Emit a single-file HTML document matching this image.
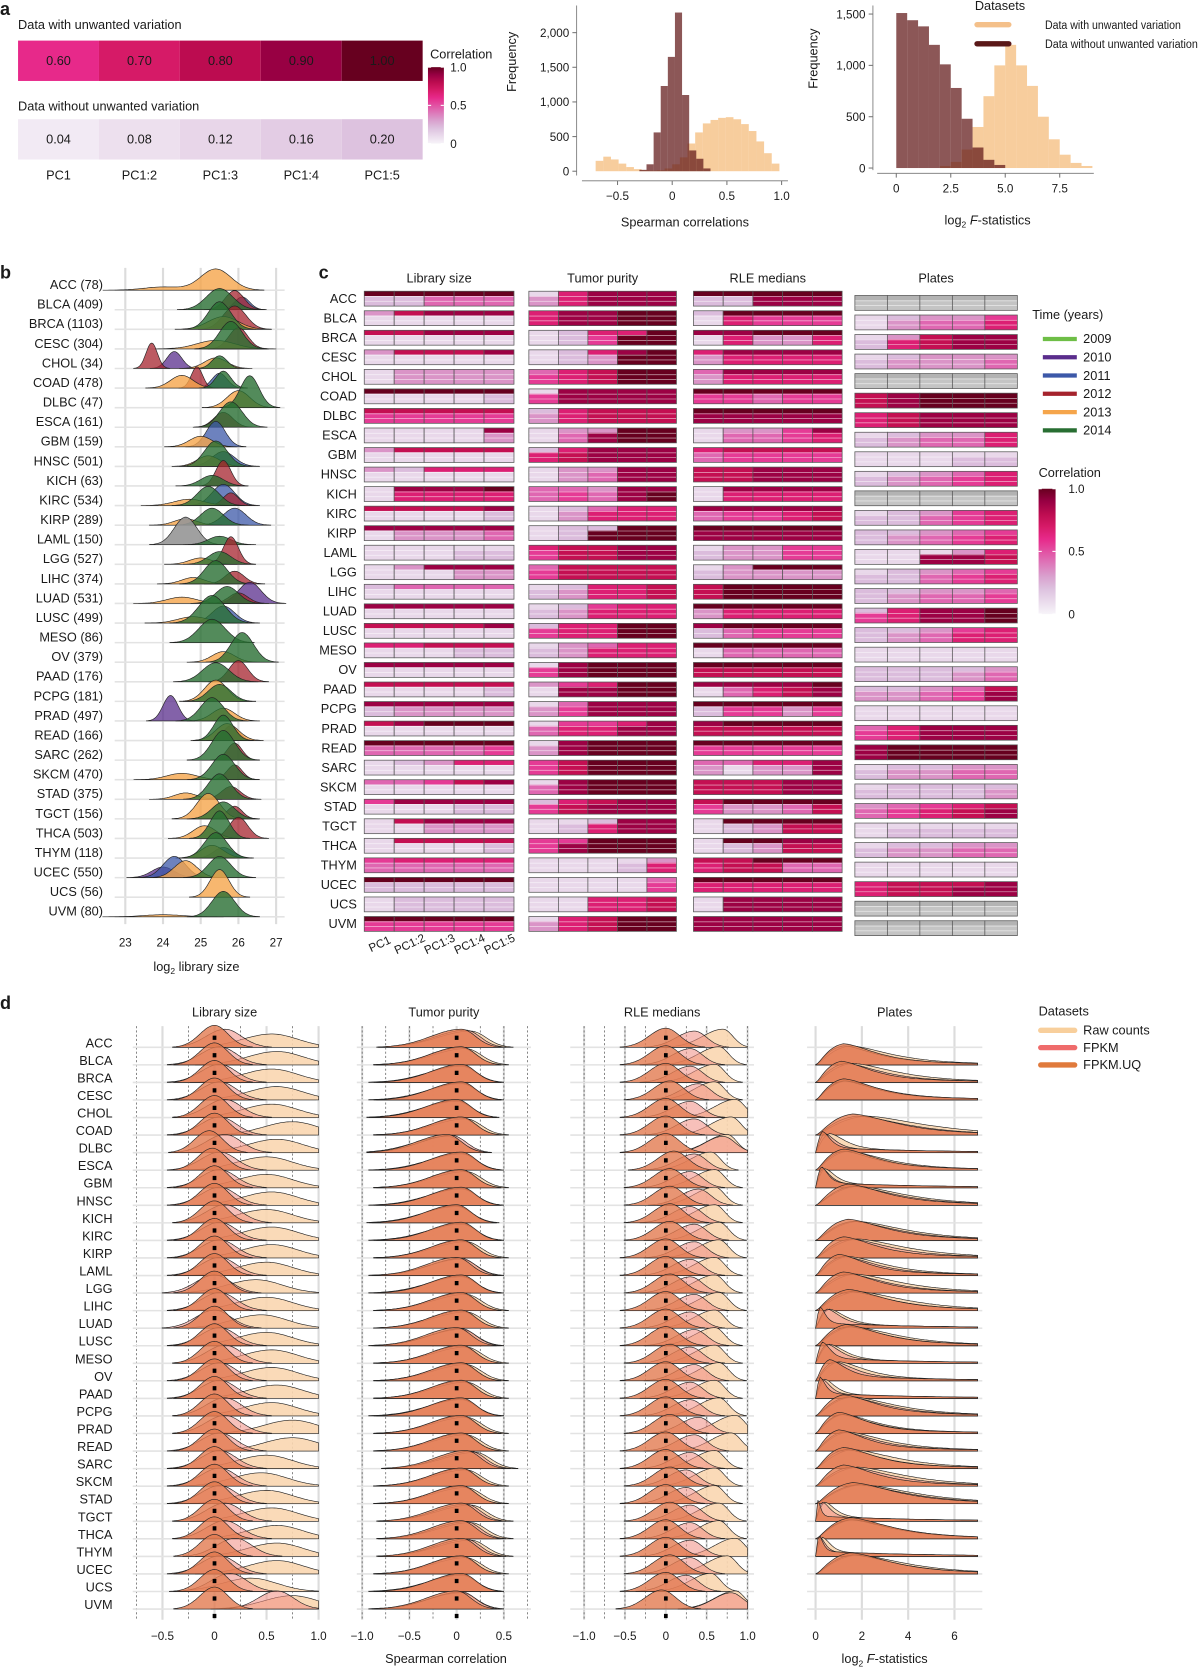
<!DOCTYPE html>
<html><head><meta charset="utf-8">
<style>
html,body{margin:0;padding:0;background:#fff;}
svg{display:block;font-family:"Liberation Sans",sans-serif;}
</style></head>
<body>
<svg id="fig" width="1200" height="1672" viewBox="0 0 1130 1574" xmlns="http://www.w3.org/2000/svg"></svg>
<script>
// ---------------- DATA ----------------
const cancers=["ACC","BLCA","BRCA","CESC","CHOL","COAD","DLBC","ESCA","GBM","HNSC","KICH","KIRC","KIRP","LAML","LGG","LIHC","LUAD","LUSC","MESO","OV","PAAD","PCPG","PRAD","READ","SARC","SKCM","STAD","TGCT","THCA","THYM","UCEC","UCS","UVM"];
const sampleN=[78,409,1103,304,34,478,47,161,159,501,63,534,289,150,527,374,531,499,86,379,176,181,497,166,262,470,375,156,503,118,550,56,80];
// panel a
const pcLabels=["PC1","PC1:2","PC1:3","PC1:4","PC1:5"];
const aWith=[0.60,0.70,0.80,0.90,1.00];
const aWithout=[0.04,0.08,0.12,0.16,0.20];
const h1OrangeStart=-0.7, h1OrangeWidth=0.07;
const h1Orange=[150,210,170,110,60,30,15,10,15,40,100,200,400,560,690,740,770,780,750,680,580,430,260,110];
const h1BrownStart=-0.3, h1BrownWidth=0.065;
const h1Brown=[20,100,560,1230,1650,2290,1100,300,180,40];
const h1YTicks=[0,500,1000,1500,2000];
const h1XTicks=[-0.5,0,0.5,1.0];
const h2OrangeStart=2.0, h2OrangeWidth=0.5;
const h2Orange=[20,60,180,400,700,1000,1200,1000,800,500,280,130,50,20];
const h2BrownStart=0, h2BrownWidth=0.5;
const h2Brown=[1510,1440,1380,1200,1010,780,480,200,80,30];
const h2YTicks=[0,500,1000,1500];
const h2XTicks=[0,2.5,5.0,7.5];
// panel b: per cancer [year, mean, sd, height]
const years=["2009","2010","2011","2012","2013","2014"];
const bRows=[
[[2013,25.4,.4,1],[2013,24,.5,.15]],
[[2014,25.5,.35,1],[2012,25.9,.25,.9],[2011,26.1,.2,.6]],
[[2014,25.5,.3,1.3],[2012,25.9,.3,1.1],[2013,25.6,.4,.6]],
[[2014,25.8,.3,1.3],[2012,26,.25,1],[2013,25.4,.5,.4]],
[[2012,23.7,.15,1.2],[2010,24.3,.2,.8],[2013,25.4,.3,.5],[2014,25.5,.2,.6]],
[[2012,24.9,.15,1],[2013,24.5,.3,.6],[2011,25.5,.2,.7],[2014,25.6,.2,.8]],
[[2014,26.3,.25,1.5],[2013,26,.3,.8]],
[[2014,25.8,.3,1.2],[2012,25.6,.25,.7]],
[[2011,25.4,.25,1.2],[2013,25,.3,.5]],
[[2014,25.4,.3,1.2],[2011,25.6,.3,.7],[2013,25.2,.3,.5]],
[[2012,25.6,.2,1.2],[2014,25.3,.3,.5]],
[[2011,25.6,.3,1],[2014,25.2,.3,.9],[2012,25.8,.2,.6],[2013,24.7,.4,.3]],
[[2011,25.9,.3,.8],[2014,25.3,.3,.8],[2013,24.6,.3,.3]],
[[0,24.6,.3,1.3],[2014,25.5,.3,.4]],
[[2012,25.8,.2,1.3],[2014,25.5,.3,.6],[2013,25,.3,.3]],
[[2014,25.4,.3,1.1],[2012,25.9,.25,.6],[2013,24.8,.3,.3]],
[[2010,26.3,.3,1],[2014,25.7,.3,.8],[2012,26,.25,.5],[2013,24.5,.4,.3]],
[[2014,25.3,.35,1.3],[2011,25.6,.3,.8],[2013,24.8,.4,.3]],
[[2014,25.3,.35,1.1]],
[[2014,26.1,.3,1.4],[2013,25.6,.3,.5]],
[[2012,26,.25,1],[2014,25.4,.35,.9]],
[[2013,25.4,.3,1],[2014,25.5,.3,.8]],
[[2010,24.2,.2,1.2],[2014,25.3,.3,1.1],[2013,25.6,.3,.6]],
[[2014,25.6,.25,1.2],[2013,25.7,.3,.8],[2012,25.8,.2,.7]],
[[2014,25.6,.3,1.4],[2012,25.9,.2,.8]],
[[2014,25.6,.3,1.2],[2012,25.9,.2,.7],[2013,24.5,.4,.3]],
[[2014,25.5,.3,1.2],[2012,25.8,.25,.6],[2013,24.6,.3,.3]],
[[2013,25.2,.3,1.2],[2014,25.6,.3,.8],[2012,25.9,.2,.6]],
[[2014,25.5,.25,1.3],[2012,26,.25,1],[2013,25.1,.3,.6]],
[[2014,25.4,.3,1.2],[2013,25.3,.3,.6],[2011,25.6,.25,.5]],
[[2011,24.3,.3,1],[2013,24.6,.3,.8],[2014,25.5,.3,1],[2010,24,.3,.5]],
[[2013,25.5,.25,1.3]],
[[2014,25.6,.3,1.2],[2013,24,.5,.1]]];
const bXTicks=[23,24,25,26,27];
// panel c: each cell "top-digit body-digit" (0..9 -> correlation 0..1); "g" = not available
const cPanels=["Library size","Tumor purity","RLE medians","Plates"];
const cLib=["92 92 94 94 94","31 71 81 81 81","71 71 81 81 81","31 71 71 71 81","11 33 33 33 33","91 91 91 91 92","75 75 75 75 75","11 11 11 11 83","31 71 71 71 71","31 21 61 61 61","11 86 86 86 96","71 71 71 71 82","81 83 83 83 84","11 11 11 12 12","11 31 81 83 83","21 41 41 41 41","81 81 81 81 81","71 71 71 71 81","61 61 71 72 72","81 81 81 81 81","71 71 71 71 72","82 83 83 83 83","71 81 91 91 91","94 94 94 94 95","11 21 31 61 61","41 41 51 71 81","51 81 81 82 82","11 71 83 83 83","11 71 71 71 72","54 64 64 64 64","92 92 92 92 92","11 22 22 22 22","95 95 95 95 95"];
const cPurity=["13 66 88 88 88","66 88 88 99 99","11 22 65 69 99","11 22 63 89 99","45 66 77 99 99","15 88 88 88 88","23 66 77 77 77","11 34 38 99 99","26 67 88 88 88","11 33 34 88 88","44 45 34 88 89","11 23 46 66 66","11 22 29 99 99","65 77 77 88 88","45 77 77 77 77","12 23 66 66 77","12 23 56 66 66","25 66 66 99 99","12 33 46 66 66","15 88 99 99 99","31 58 68 99 99","13 45 88 88 88","14 56 56 68 88","13 88 99 99 99","55 77 99 99 99","14 88 99 99 99","25 67 78 88 88","11 12 26 88 88","55 58 99 99 99","11 11 11 12 36","11 11 11 11 45","11 11 66 66 77","13 66 77 99 99"];
const cRle=["92 92 98 98 98","21 96 95 95 95","81 86 93 93 96","63 86 86 86 86","43 86 86 86 86","95 95 94 95 95","98 98 98 98 98","11 34 34 55 86","64 75 75 75 75","77 77 88 88 88","11 86 86 86 86","84 85 85 86 87","98 98 98 98 98","12 33 33 55 55","12 33 93 93 93","77 99 99 99 99","93 96 96 96 96","82 94 95 95 95","91 94 94 94 94","97 97 97 97 97","81 84 86 87 98","92 95 95 93 95","87 97 97 97 97","95 95 95 95 95","43 41 63 63 88","77 77 77 88 88","75 93 93 94 97","11 92 93 97 97","11 92 93 87 87","76 77 97 94 94","96 96 96 96 96","11 88 88 88 88","88 88 88 88 88"];
const cPlates=["g","11 23 34 34 56","12 36 77 88 88","12 23 33 33 34","g","77 88 99 99 99","66 77 88 88 88","12 23 34 34 66","11 11 11 12 12","12 23 34 45 66","g","12 22 34 55 66","22 23 34 45 56","11 11 18 38 67","12 22 34 45 56","22 23 34 34 45","25 66 88 88 99","22 23 34 56 66","11 11 11 11 11","22 22 22 23 34","23 23 34 45 78","11 11 11 11 11","45 66 88 88 88","88 99 99 99 99","12 23 23 34 34","12 22 22 22 23","34 45 56 67 78","11 12 12 12 12","12 23 23 34 34","11 11 11 11 11","66 77 77 78 88","g","g"];
// panel d: ridge centres per cancer
const dSets=["Raw counts","FPKM","FPKM.UQ"];
const libRaw=[.55,.6,.55,.6,.55,.75,.6,.5,.5,.55,.5,.55,.55,.5,.4,.5,.45,.5,.55,.55,.6,.55,.75,.75,.5,.45,.5,.55,.6,.6,.6,.35,.75];
const libFpkm=[.1,.05,.05,.05,.1,.05,.1,.05,.05,.05,.1,.05,.05,.05,0,.05,0,.05,.1,.05,.05,.1,.1,.05,.05,.05,.05,.1,.1,.2,.05,.15,.6];
const libUq=[0,0,0,0,0,0,-.05,-.02,0,0,0,0,0,0,0,0,0,0,0,0,0,0,0,0,0,0,0,0,0,0,0,0,0];
const tpRaw=[.15,.1,.05,.05,0,.1,-.1,.05,.1,.05,0,.05,.1,.05,.05,.1,.1,.05,.1,.1,.1,.05,.1,.1,.2,.1,.1,.15,.15,.15,.1,.05,.05];
const tpFpkm=[.1,.05,.05,.05,0,.05,-.05,.05,.05,.05,0,.05,.05,.05,.05,.05,.05,.05,.05,.05,.05,.05,.05,.05,.15,.05,.05,.1,.1,.1,.05,.05,.05];
const tpUq=[.05,.05,.05,.05,0,.05,-.1,.05,.05,.05,0,.05,.05,0,.05,.05,.05,0,.05,.05,.05,.05,.05,.05,.1,.05,.05,.05,.05,.05,.05,.05,0];
const rleRaw=[.7,.65,.6,.6,.85,.8,.75,.55,.6,.6,.6,.65,.65,.6,.6,.65,.6,.6,.6,.65,.6,.65,.85,.8,.6,.6,.6,.65,.65,.85,.75,.55,.85];
const rleFpkm=[.35,.3,.3,.4,.3,.35,.7,.35,.3,.4,.3,.35,.35,.3,.3,.35,.3,.35,.3,.35,.3,.3,.4,.35,.3,.25,.25,.3,.3,.3,.3,.25,.8];
const rleUq=[0,0,0,.05,0,0,0,.1,.05,.05,.05,.05,0,0,.05,0,0,0,.05,0,0,0,.05,0,0,.05,0,.05,0,0,.05,0,-.05];
const plRaw=[null,1.5,1.6,1.3,null,2.2,.6,1.4,.4,1.8,null,1.8,1.8,1.4,1.7,1.8,.6,1.6,.6,1.0,.4,1.6,1.2,1.4,1.6,1.8,2.0,.4,1.6,.3,1.8,null,null];
const plFpkm=[null,1.2,1.3,1.2,null,1.8,.4,1.2,.3,1.6,null,1.6,1.5,1.2,1.4,1.5,.5,1.4,.5,.8,.3,1.4,1.1,1.2,1.3,1.5,1.8,.3,1.5,.2,1.6,null,null];
const plUq=[null,1.2,1.1,1.2,null,1.6,.3,1.2,.25,1.4,null,1.4,1.2,1.0,1.2,1.4,.2,1.3,.3,.6,.2,1.2,1.0,1.0,1.2,1.2,1.6,.1,1.5,.15,1.5,null,null];

// ---------------- HELPERS ----------------
const NS='http://www.w3.org/2000/svg';
const svg=document.getElementById('fig');
function mk(tag,attrs,parent){const e=document.createElementNS(NS,tag);for(const k in attrs)e.setAttribute(k,attrs[k]);(parent||svg).appendChild(e);return e;}
function txt(x,y,s,size,anchor,parent){const e=mk('text',{x:x,y:y,'font-size':size,'text-anchor':anchor||'start',fill:'#1a1a1a'},parent);e.textContent=s;return e;}
const stops=[[0,[247,244,249]],[0.25,[215,181,216]],[0.45,[223,101,176]],[0.6,[231,41,138]],[0.75,[206,18,86]],[0.9,[152,0,67]],[1,[103,0,31]]];
function corr(v){v=Math.max(0,Math.min(1,v));for(let i=1;i<stops.length;i++){if(v<=stops[i][0]){const a=stops[i-1],b=stops[i];const t=(v-a[0])/(b[0]-a[0]);const c=a[1].map((x,k)=>Math.round(x+(b[1][k]-x)*t));return 'rgb('+c.join(',')+')';}}return 'rgb(103,0,31)';}
function panelLabel(x,y,s){const t=txt(x,y,s,17,'start');t.setAttribute('font-weight','bold');return t;}

const defs=mk('defs',{});
const grad=mk('linearGradient',{id:'cbar',x1:0,y1:1,x2:0,y2:0},defs);
for(let i=0;i<=10;i++){mk('stop',{offset:(i/10),'stop-color':corr(i/10)},grad);}
function colorbar(x,y,w,h,labX,name){
  const g=mk('g',{});
  
  
  mk('rect',{x:x,y:y,width:w,height:h,fill:'url(#cbar)'},g);
  [[1,'1.0'],[0.5,'0.5'],[0,'0']].forEach(([v,l])=>{const yy=y+h-v*h;mk('line',{x1:x,x2:x+3,y1:yy,y2:yy,stroke:'#fff','stroke-width':1},g);mk('line',{x1:x+w-3,x2:x+w,y1:yy,y2:yy,stroke:'#fff','stroke-width':1},g);const t=txt(labX,yy+4,l,11,'start',g);});
  return g;
}

// ---------------- PANEL A ----------------
let L=panelLabel(0,14,'a');


let t=txt(17,27,'Data with unwanted variation',12);


t=txt(17,104,'Data without unwanted variation',12);


const aCellW=76.2;
[[aWith,38,'with'],[aWithout,112,'without']].forEach(([vals,y0,nm])=>{
  vals.forEach((v,j)=>{
    const r=mk('rect',{x:17+j*aCellW,y:y0,width:aCellW,height:38,fill:corr(v)});
    
    
    const tt=txt(17+j*aCellW+aCellW/2,y0+23,v.toFixed(2),12,'middle');
    
    
  });
});
pcLabels.forEach((p,j)=>{const tt=txt(17+j*aCellW+aCellW/2,169,p,12,'middle');});
t=txt(405,55,'Correlation',12);


colorbar(403,63,15,72,424,'correlation-colorbar-a');

function histogram(opts){
  const g=mk('g',{});
  
  
  const xS=opts.xS, yS=opts.yS;
  mk('line',{x1:opts.ax,x2:opts.ax,y1:opts.top,y2:opts.axBottom,stroke:'#777','stroke-width':0.8},g);
  mk('line',{x1:opts.axL,x2:opts.axR,y1:opts.axY,y2:opts.axY,stroke:'#777','stroke-width':0.8},g);
  opts.yTicks.forEach(v=>{const tt=txt(opts.ax-7,yS(v)+4,v.toLocaleString('en-US'),11,'end',g);mk('line',{x1:opts.ax-4,x2:opts.ax,y1:yS(v),y2:yS(v),stroke:'#777'},g);});
  opts.xTicks.forEach(v=>{const tt=txt(xS(v),opts.axY+18,opts.fmt(v),11,'middle',g);mk('line',{x1:xS(v),x2:xS(v),y1:opts.axY,y2:opts.axY+4,stroke:'#777'},g);});
  opts.series.forEach(s=>{
    s.counts.forEach((c,i)=>{
      const x0=xS(s.start+i*s.width), x1=xS(s.start+(i+1)*s.width);
      const r=mk('rect',{x:x0,y:yS(c),width:x1-x0,height:yS(0)-yS(c),fill:s.color},g);
      
      
    });
  });
  const yt=mk('text',{x:0,y:0,'font-size':12,'text-anchor':'middle',transform:'translate('+opts.ylabX+','+opts.ylabY+') rotate(-90)',fill:'#1a1a1a'},g);
  yt.textContent='Frequency';
  
  
  return g;
}
histogram({name:'spearman-histogram',xS:v=>633+v*103,yS:c=>161-c*(130.5/2000),ax:543,top:5,axBottom:165,axL:548,axR:742,axY:170,
  yTicks:h1YTicks,xTicks:h1XTicks,fmt:v=>v===1?'1.0':(v<0?'\u2212'+Math.abs(v):String(v)),ylabX:486,ylabY:58,
  series:[{name:'with-variation',counts:h1Orange,start:h1OrangeStart,width:h1OrangeWidth,color:'rgba(242,178,105,0.65)'},
          {name:'without-variation',counts:h1Brown,start:h1BrownStart,width:h1BrownWidth,color:'rgba(95,22,22,0.72)'}]});
t=txt(645,213,'Spearman correlations',12,'middle');


histogram({name:'fstat-histogram',xS:v=>844+v*20.52,yS:c=>158-c*(145/1500),ax:822,top:5,axBottom:160,axL:826,axR:1030,axY:163,
  yTicks:h2YTicks,xTicks:h2XTicks,fmt:v=>v===0?'0':v.toFixed(1),ylabX:770,ylabY:55,
  series:[{name:'with-variation',counts:h2Orange,start:h2OrangeStart,width:h2OrangeWidth,color:'rgba(242,178,105,0.65)'},
          {name:'without-variation',counts:h2Brown,start:h2BrownStart,width:h2BrownWidth,color:'rgba(95,22,22,0.72)'}]});
t=mk('text',{x:930,y:211,'font-size':12,'text-anchor':'middle',fill:'#1a1a1a'});
t.innerHTML='log<tspan font-size="8" dy="3">2</tspan><tspan dy="-3"> </tspan><tspan font-style="italic">F</tspan>-statistics';


const lgA=mk('g',{});


t=txt(918,9,'Datasets',12,'start',lgA);


[['Data with unwanted variation','#f4c08a',23,128],['Data without unwanted variation','#5a1818',41,144]].forEach(([s,c,y,w])=>{
  const ln=mk('line',{x1:920,x2:950,y1:y,y2:y,stroke:c,'stroke-width':5,'stroke-linecap':'round'},lgA);
  
  
  const tt=txt(984,y+4,s,11.5,'start',lgA);
  tt.setAttribute('textLength',w);
  tt.setAttribute('lengthAdjust','spacingAndGlyphs');
  
  
});

// ---------------- PANEL B ----------------
L=panelLabel(0,262,'b');


const yearColor={0:'rgba(150,150,150,0.9)',2009:'rgba(110,190,70,0.75)',2010:'rgba(90,45,140,0.75)',2011:'rgba(60,88,168,0.75)',2012:'rgba(165,35,45,0.75)',2013:'rgba(245,165,75,0.8)',2014:'rgba(40,110,50,0.8)'};
const xb=v=>118+(v-23)*35.5;
const ybRow=i=>268+i*18.44;
const gB=mk('g',{});


bXTicks.forEach(v=>{mk('line',{x1:xb(v),x2:xb(v),y1:252,y2:870,stroke:'#dcdcdc','stroke-width':2},gB);
  const tt=txt(xb(v),891,String(v),11,'middle',gB);});
cancers.forEach((c,i)=>{mk('line',{x1:108,x2:268,y1:ybRow(i)+5,y2:ybRow(i)+5,stroke:'#e3e3e3','stroke-width':1.5},gB);});
function ridge(parent,xS,base,lo,hi,fn,unit,fill){
  let d='M'+xS(lo).toFixed(1)+','+base;const n=70;
  for(let k=0;k<=n;k++){const x=lo+(hi-lo)*k/n;d+=' L'+xS(x).toFixed(1)+','+(base-fn(x)*unit).toFixed(1);}
  d+=' L'+xS(hi).toFixed(1)+','+base+' Z';
  return mk('path',{d:d,fill:fill,stroke:'#222','stroke-width':0.6},parent);
}
cancers.forEach((c,i)=>{
  const tt=txt(97,ybRow(i)+4,c+' ('+sampleN[i]+')',12,'end',gB);
  
  
  const groups={};
  bRows[i].forEach(cm=>{(groups[cm[0]]=groups[cm[0]]||[]).push(cm);});
  Object.keys(groups).forEach(y=>{
    const comps=groups[y];
    const lo=Math.min(...comps.map(k=>k[1]-3.2*k[2])), hi=Math.max(...comps.map(k=>k[1]+3.2*k[2]));
    const p=ridge(gB,xb,ybRow(i)+5,lo,hi,x=>comps.reduce((s,k)=>s+k[3]*Math.exp(-0.5*((x-k[1])/k[2])**2),0),20,yearColor[y]);
    
    
  });
});
t=mk('text',{x:185,y:914,'font-size':12,'text-anchor':'middle',fill:'#1a1a1a'});
t.innerHTML='log<tspan font-size="8" dy="3">2</tspan><tspan dy="-3"> library size</tspan>';


const lgB=mk('g',{});


t=txt(972,300,'Time (years)',12,'start',lgB);


years.forEach((y,k)=>{
  const yy=319+k*17.2;
  const ln=mk('line',{x1:982,x2:1014,y1:yy,y2:yy,stroke:yearColor[+y].replace(/0\.\d+\)/,'1)'),'stroke-width':4},lgB);
  
  
  const tt=txt(1020,yy+4,y,12,'start',lgB);
  
  
});
t=txt(978,449,'Correlation',12,'start');


colorbar(978,460,16,118,1006,'correlation-colorbar-c');

// ---------------- PANEL C ----------------
L=panelLabel(300,262,'c');


const cX=[343,498,653,805], cW=[141,139,140,153];
const cData=[cLib,cPurity,cRle,cPlates];
const cyRow=i=>281+i*18.4;
cPanels.forEach((p,k)=>{
  const g=mk('g',{});
  
  
  const tt=txt(cX[k]+cW[k]/2,266,p,12,'middle',g);
  
  
  const off=(k===3)?4:0;
  const cw=cW[k]/5;
  cData[k].forEach((row,i)=>{
    const y0=cyRow(i)-7+off;
    const cells=row.split(' ');
    for(let j=0;j<5;j++){
      const x0=cX[k]+j*cw;
      let top,body;
      if(row==='g'){top='#b3b3b3';body='#c4c4c4';}
      else{top=corr(+cells[j][0]/9);body=corr(+cells[j][1]/9);}
      const r1=mk('rect',{x:x0,y:y0,width:cw,height:14,fill:body},g);
      
      
      mk('rect',{x:x0,y:y0,width:cw,height:4.5,fill:top},g);
      mk('line',{x1:x0,x2:x0+cw,y1:y0+5,y2:y0+5,stroke:'rgba(255,255,255,0.55)','stroke-width':0.8},g);
      mk('line',{x1:x0,x2:x0+cw,y1:y0+9.5,y2:y0+9.5,stroke:'rgba(255,255,255,0.55)','stroke-width':0.8},g);
      mk('rect',{x:x0,y:y0,width:cw,height:14,fill:'none',stroke:'#555','stroke-width':0.7},g);
    }
  });
});
cancers.forEach((c,i)=>{const tt=txt(336,cyRow(i)+4,c,12,'end');});
pcLabels.forEach((p,j)=>{const x=cX[0]+j*cW[0]/5+cW[0]/10;const tt=mk('text',{x:0,y:0,'font-size':11,'text-anchor':'middle',fill:'#1a1a1a',transform:'translate('+(x+2)+',892) rotate(-25)'});tt.textContent=p;});

// ---------------- PANEL D ----------------
L=panelLabel(0,950,'d');


const ydRow=i=>982+i*16.53;
const dFill=['rgba(249,214,176,0.9)','rgba(240,140,130,0.55)','rgba(226,122,80,0.8)'];
const dPanels=[
 {title:'Library size',xS:v=>202+v*98,lo:-0.78,hi:1.0,ticks:[-0.5,0,0.5,1.0],dots:[-0.75,-0.25,0.25,0.75],data:[libRaw,libFpkm,libUq],sdL:[.28,.18,.14],sdR:[.25,.16,.13],h:[.7,.95,1.15],left:125,right:298},
 {title:'Tumor purity',xS:v=>430+v*89,lo:-0.95,hi:0.65,ticks:[-1.0,-0.5,0,0.5],dots:[-1,-0.75,-0.5,-0.25,0.25,0.5,0.75],data:[tpRaw,tpFpkm,tpUq],sdL:[.35,.33,.32],sdR:[.16,.15,.15],h:[.85,.9,.95],left:336,right:500},
 {title:'RLE medians',xS:v=>627+v*77,lo:-0.9,hi:1.0,ticks:[-1.0,-0.5,0,0.5,1.0],dots:[-1,-0.75,-0.5,-0.25,0.25,0.5,0.75,1],data:[rleRaw,rleFpkm,rleUq],sdL:[.25,.22,.2],sdR:[.12,.15,.17],h:[.95,.85,1.0],left:537,right:710},
 {title:'Plates',xS:v=>768+v*21.8,lo:0,hi:7,ticks:[0,2,4,6],dots:[],data:[plRaw,plFpkm,plUq],h:[.9,.9,1.0],left:760,right:925}
];
dPanels.forEach((P,k)=>{
  const g=mk('g',{});
  
  
  const tt=txt((P.left+P.right)/2,957,P.title,12,'middle',g);
  
  
  P.ticks.forEach(v=>{mk('line',{x1:P.xS(v),x2:P.xS(v),y1:966,y2:1525,stroke:'#dcdcdc','stroke-width':2},g);
    const lab=v===0?'0':(v<0?'\u2212':'')+(k===3?String(Math.abs(v)):Math.abs(v).toFixed(1));
    const tl=txt(P.xS(v),1544,lab,11,'middle',g);});
  P.dots.forEach(v=>{mk('line',{x1:P.xS(v),x2:P.xS(v),y1:966,y2:1525,stroke:'#444','stroke-width':0.6,'stroke-dasharray':'2,2'},g);});
  cancers.forEach((c,i)=>{mk('line',{x1:P.left,x2:P.right,y1:ydRow(i)+4,y2:ydRow(i)+4,stroke:'#e3e3e3','stroke-width':1.5},g);});
  cancers.forEach((c,i)=>{
    const base=ydRow(i)+4;
    for(let s=0;s<3;s++){
      const m=P.data[s][i];
      if(m===null) continue;
      let fn,lo,hi;
      if(k===3){const h=P.h[s];fn=x=>{const pk=Math.pow(Math.max(x,1e-4)/m,1.6)*Math.exp(1.6*(1-x/m));const tl=0.33*Math.min(1,x/m)*Math.exp(-Math.max(0,x-m)/4.5);return h*(pk+tl)/1.2;};lo=0;hi=7;}
      else{const sl=P.sdL[s],sr=P.sdR[s],h=P.h[s];fn=x=>{const sd=x<m?sl:sr;return h*Math.exp(-0.5*((x-m)/sd)**2);};lo=Math.max(P.lo,m-2.8*P.sdL[s]);hi=Math.min(P.hi,m+2.8*P.sdR[s]);}
      const p=ridge(g,P.xS,base,lo,hi,fn,18,dFill[s]);
      
      
    }
  });
  if(k<3){mk('line',{x1:P.xS(0),x2:P.xS(0),y1:975,y2:1525,stroke:'#000','stroke-width':3.5,'stroke-dasharray':'4,12.5'},g);}
});
cancers.forEach((c,i)=>{const tt=txt(106,ydRow(i)+4,c,12,'end');});
t=txt(420,1566,'Spearman correlation',12,'middle');


t=mk('text',{x:833,y:1566,'font-size':12,'text-anchor':'middle',fill:'#1a1a1a'});
t.innerHTML='log<tspan font-size="8" dy="3">2</tspan><tspan dy="-3"> </tspan><tspan font-style="italic">F</tspan>-statistics';


const lgD=mk('g',{});


t=txt(978,956,'Datasets',12,'start',lgD);


const dKey=['#f8cf9c','#ef6b6b','#e07a3c'];
dSets.forEach((s,k)=>{
  const yy=970+k*16.3;
  const ln=mk('line',{x1:980,x2:1012,y1:yy,y2:yy,stroke:dKey[k],'stroke-width':5,'stroke-linecap':'round'},lgD);
  
  
  const tt=txt(1020,yy+4,s,12,'start',lgD);
  
  
});
</script>
</body></html>
